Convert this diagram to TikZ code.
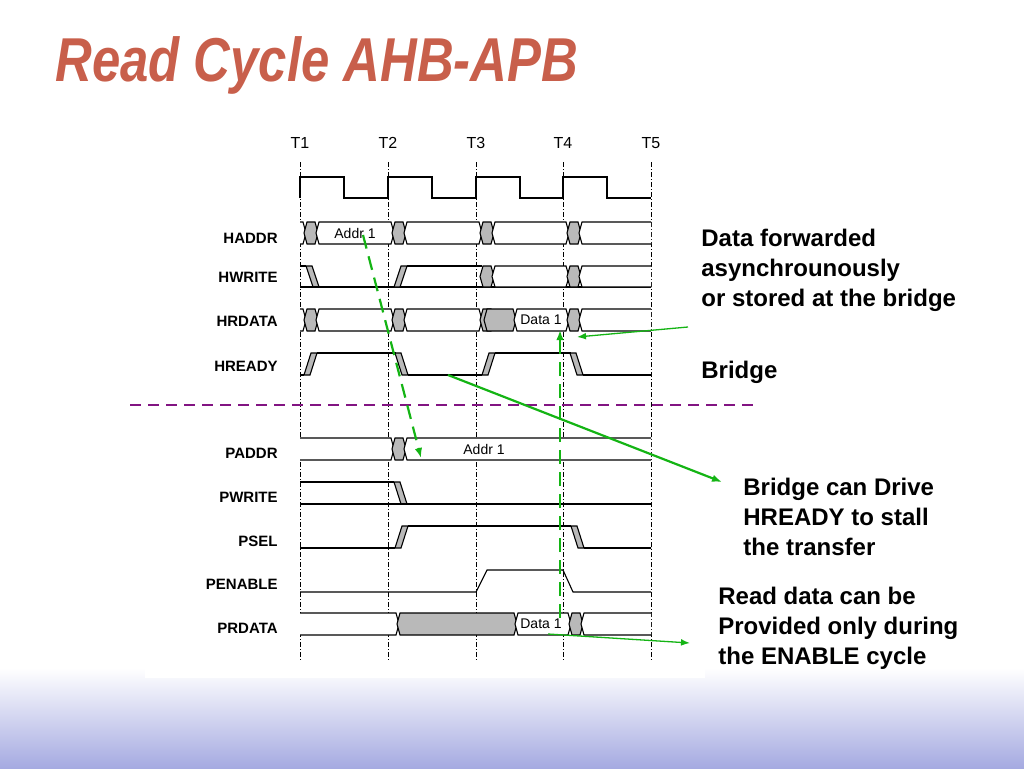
\documentclass[tikz,border=0pt]{standalone}
\usepackage{fontspec}
\setmainfont{Liberation Sans}
\usetikzlibrary{arrows.meta}
\tikzset{every picture/.style={line width=1.2pt}}
\tikzset{sig/.style={line width=1.1pt},
  tick/.style={line width=0.6pt,dash pattern=on 5pt off 2pt on 1pt off 2pt},
  lbl/.style={anchor=east,inner sep=0.75pt,font=\bfseries\fontsize{15}{17}\selectfont},
  bustxt/.style={inner sep=0.75pt,fill=white,font=\fontsize{14}{16}\selectfont},
  note/.style={anchor=west,inner sep=0.75pt,align=left,font=\bfseries\fontsize{24}{30}\selectfont},
  grn/.style={color={rgb,255:red,20;green,180;blue,20},line width=2.2pt}}
% bus segment with pointed ends
\newcommand{\busseg}[5]{\draw[sig,fill=#5] (#1,{(#3+#4)/2}) -- ({#1+3},#3) -- ({#2-3},#3) -- (#2,{(#3+#4)/2}) -- ({#2-3},#4) -- ({#1+3},#4) -- cycle;}
% falling and rising edges (grey)
\newcommand{\fallx}[3]{\draw[sig,fill=gray!55] (#1,#2) -- ({#1+6},#2) -- ({#1+13},#3) -- ({#1+7},#3) -- cycle;}
\newcommand{\risex}[3]{\draw[sig,fill=gray!55] ({#1},#3) -- ({#1+6},#3) -- ({#1+13},#2) -- ({#1+7},#2) -- cycle;}
\begin{document}
\begin{tikzpicture}[x=1pt,y=1pt,yscale=-1,xscale=1]
\useasboundingbox (0,0) rectangle (1024,768);
%background
\shade[top color=white,bottom color={rgb,255:red,165;green,170;blue,225}] (0,668) rectangle (1024,768);
\fill[white] (145,125) rectangle (705,678);
% Title
\node[anchor=west,inner sep=0,xscale=0.82,color={rgb,255:red,200;green,95;blue,75},font=\bfseries\itshape\fontsize{62}{64}\selectfont] (title) at (55,65) {Read Cycle AHB-APB};
% clock ticks
\foreach \x/\t in {300/T1,388/T2,476/T3,563/T4,651/T5}{
  \draw[tick] (\x,162) -- (\x,660);
  \node[inner sep=0.75pt,font=\fontsize{16}{18}\selectfont] (\t) at (\x,143) {\t};}
% clock
\draw[sig] (300,198) -- (300,177) -- (344,177) -- (344,198) -- (388,198) -- (388,177) -- (432,177) -- (432,198) -- (476,198) -- (476,177) -- (520,177) -- (520,198) -- (563,198) -- (563,177) -- (607,177) -- (607,198) -- (651,198);
\begin{scope}
\clip (300,160) rectangle (651,660);
% HADDR
\busseg{294}{306}{222}{244}{white}\busseg{304}{318}{222}{244}{gray!55}\busseg{316}{394}{222}{244}{white}
\busseg{392}{406}{222}{244}{gray!55}\busseg{404}{482}{222}{244}{white}\busseg{480}{494}{222}{244}{gray!55}
\busseg{492}{569}{222}{244}{white}\busseg{567}{581}{222}{244}{gray!55}\busseg{579}{660}{222}{244}{white}
% HWRITE
\draw[sig] (300,266) -- (306,266); \fallx{306}{266}{287} \draw[sig] (300,287) -- (660,287);
\risex{394}{266}{287} \draw[sig] (407,266) -- (482,266);
\busseg{480}{494}{266}{287}{gray!55}\busseg{492}{569}{266}{287}{white}\busseg{567}{581}{266}{287}{gray!55}\busseg{579}{660}{266}{287}{white}
% HRDATA
\busseg{294}{306}{309}{331}{white}\busseg{304}{318}{309}{331}{gray!55}\busseg{316}{394}{309}{331}{white}
\busseg{392}{406}{309}{331}{gray!55}\busseg{404}{482}{309}{331}{white}\busseg{480}{494}{309}{331}{gray!55}
\busseg{484}{516}{309}{331}{gray!55}\busseg{514}{569}{309}{331}{white}\busseg{567}{581}{309}{331}{gray!55}\busseg{579}{660}{309}{331}{white}
% HREADY
\draw[sig] (300,375) -- (304,375); \risex{304}{353}{375} \draw[sig] (317,353) -- (396,353);
\fallx{395}{353}{375} \draw[sig] (408,375) -- (482,375); \risex{482}{353}{375} \draw[sig] (495,353) -- (571,353);
\fallx{570}{353}{375} \draw[sig] (583,375) -- (660,375);
% PADDR
\busseg{294}{394}{438}{460}{white}\busseg{392}{406}{438}{460}{gray!55}\busseg{404}{660}{438}{460}{white}
% PWRITE
\draw[sig] (300,482) -- (394,482); \fallx{394}{482}{504} \draw[sig] (300,504) -- (660,504);
% PSEL
\draw[sig] (300,548) -- (395,548); \risex{395}{526}{548} \draw[sig] (408,526) -- (571,526);
\fallx{571}{526}{548} \draw[sig] (584,548) -- (660,548);
% PENABLE
\draw[sig] (300,592) -- (476,592) -- (487,570) -- (563,570) -- (573,592) -- (660,592);
% PRDATA
\busseg{294}{399}{613}{635}{white}\busseg{397}{517}{613}{635}{gray!55}\busseg{515}{571}{613}{635}{white}
\busseg{569}{583}{613}{635}{gray!55}\busseg{581}{660}{613}{635}{white}
\end{scope}
% bus texts
\node[bustxt] (addra) at (355,233) {Addr 1};
\node[bustxt] (datah) at (541,320) {Data 1};
\node[bustxt] (addrp) at (484,449) {Addr 1};
\node[bustxt] (datap) at (541,624) {Data 1};
% signal labels
\foreach \n/\y in {HADDR/238,HWRITE/277,HRDATA/321,HREADY/366,PADDR/453,PWRITE/497,PSEL/541,PENABLE/584,PRDATA/628}
  \node[lbl] (\n) at (279,\y) {\n};
% bridge line
\draw[color={rgb,255:red,130;green,20;blue,130},line width=2pt,dash pattern=on 11pt off 7pt] (130,405) -- (755,405);
% notes
\node[note] (fwd) at (700,270) {Data forwarded\\asynchrounously\\or stored at the bridge};
\node[note] (bridge) at (700,372) {Bridge};
\node[note] (stall) at (742,517) {Bridge can Drive\\HREADY to stall\\the transfer};
\node[note] (enable) at (717,628) {Read data can be\\Provided only during\\the ENABLE cycle};
% green arrows
\coordinate (a1) at (363,235); \coordinate (a2) at (421,458);
\draw[grn,dash pattern=on 14pt off 8pt,-{Latex[length=10pt]}] (a1) -- (a2);
\coordinate (d1) at (560,618); \coordinate (d2) at (560,330);
\draw[grn,dash pattern=on 14pt off 8pt,-{Latex[length=10pt]}] (d1) -- (d2);
\coordinate (r1) at (448,375); \coordinate (r2) at (722,482);
\draw[grn,-{Latex[length=10pt]}] (r1) -- (r2);
\coordinate (f1) at (688,327); \coordinate (f2) at (577,337);
\draw[grn,line width=1.3pt,-{Latex[length=9pt]}] (f1) -- (f2);
\coordinate (e1) at (548,634); \coordinate (e2) at (690,643);
\draw[grn,line width=1.3pt,-{Latex[length=9pt]}] (e1) -- (e2);
\end{tikzpicture}
\end{document}
